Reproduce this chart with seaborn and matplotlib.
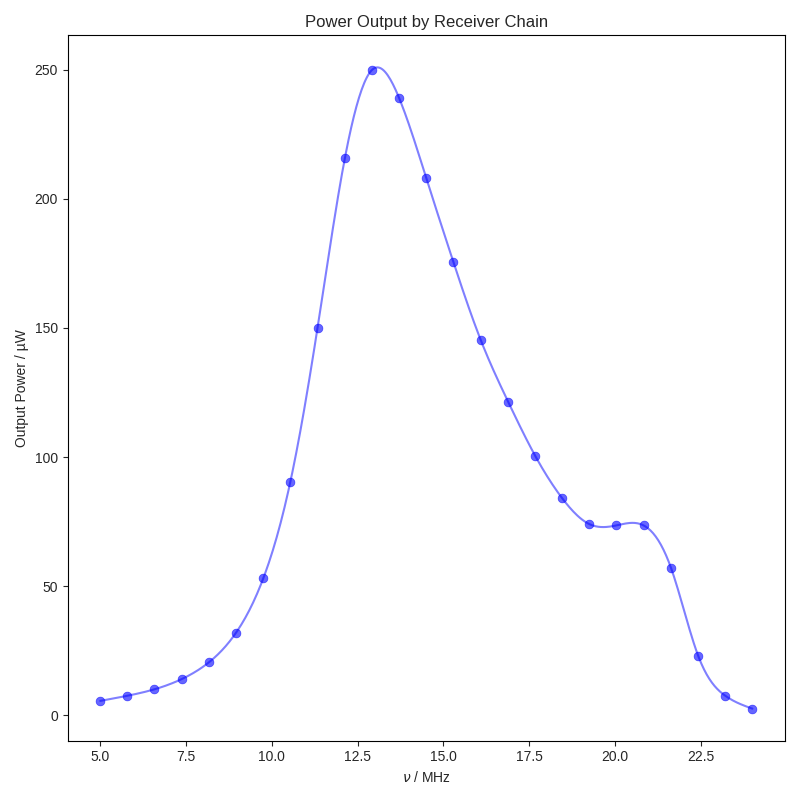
import numpy as np
import pandas as pd
import matplotlib
matplotlib.use("Agg")
import matplotlib.pyplot as plt
import seaborn as sns

# Data
freq_mhz = [5.0, 5.79, 6.58, 7.38, 8.17, 8.96, 9.75, 10.54, 11.33, 12.13, 12.92, 13.71,
            14.5, 15.29, 16.08, 16.88, 17.67, 18.46, 19.25, 20.04, 20.83, 21.63, 22.42, 23.21, 24.0]
power_uw = [5.5, 7.5, 10, 14, 20.5, 32, 53, 90.5, 150, 216, 250, 239,
            208, 175.5, 145.5, 121.5, 100.5, 84, 74, 73.5, 73.5, 57, 23, 7.5, 2.5]

df = pd.DataFrame({"freq": freq_mhz, "power": power_uw})


def natural_spline(x, y, xs):
    x = np.asarray(x, float); y = np.asarray(y, float)
    n = len(x); h = np.diff(x)
    A = np.zeros((n, n)); b = np.zeros(n)
    A[0, 0] = A[-1, -1] = 1
    for i in range(1, n - 1):
        A[i, i - 1] = h[i - 1]; A[i, i] = 2 * (h[i - 1] + h[i]); A[i, i + 1] = h[i]
        b[i] = 3 * ((y[i + 1] - y[i]) / h[i] - (y[i] - y[i - 1]) / h[i - 1])
    c = np.linalg.solve(A, b)
    idx = np.clip(np.searchsorted(x, xs) - 1, 0, n - 2)
    dx = xs - x[idx]
    bb = (y[idx + 1] - y[idx]) / h[idx] - h[idx] * (2 * c[idx] + c[idx + 1]) / 3
    d = (c[idx + 1] - c[idx]) / (3 * h[idx])
    return y[idx] + bb * dx + c[idx] * dx ** 2 + d * dx ** 3


xs = np.linspace(min(freq_mhz), max(freq_mhz), 500)
smooth = pd.DataFrame({"freq": xs, "power": natural_spline(freq_mhz, power_uw, xs)})

sns.set_style("white")
plt.rcParams["font.family"] = ["Liberation Sans", "DejaVu Sans"]

fig, ax = plt.subplots(figsize=(8, 8), dpi=100)
sns.lineplot(data=smooth, x="freq", y="power", color="blue", alpha=0.5, linewidth=1.5, ax=ax)
sns.scatterplot(data=df, x="freq", y="power", color="blue", alpha=0.6, s=40, edgecolor="blue", ax=ax)
ax.set_title("Power Output by Receiver Chain")
ax.set_xlabel("$\\nu$ / MHz")
ax.set_ylabel("Output Power / µW")
for s in ax.spines.values():
    s.set_color("black")
ax.tick_params(left=True, bottom=True)
plt.tight_layout()
plt.savefig("out.png", dpi=100)
